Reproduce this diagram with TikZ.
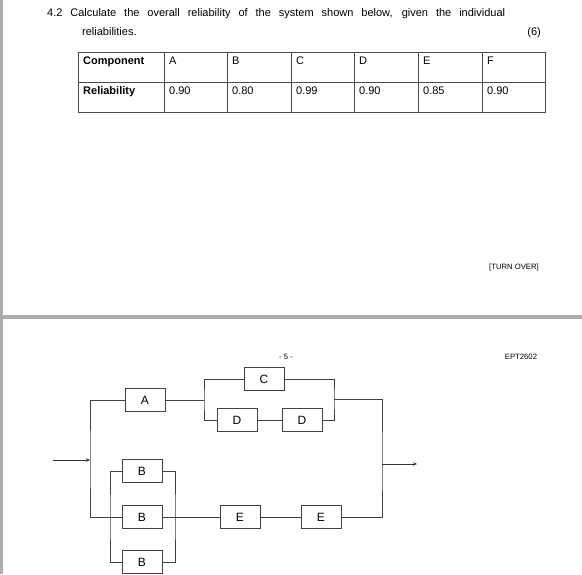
\documentclass[tikz,border=0pt]{standalone}
\usepackage{fontspec}
\setmainfont{Liberation Sans}
\usetikzlibrary{arrows.meta,positioning}

\begin{document}
\begin{tikzpicture}[x=1pt, y=-1pt,
  blk/.style={draw=black!75, minimum width=40pt, minimum height=23pt, inner sep=0pt, font=\fontsize{12}{14}\selectfont},
  wire/.style={draw=black!75, line width=0.8pt},
  arr/.style={-{Stealth[length=4pt,width=3.5pt]}, black!80, line width=0.6pt},
  txt/.style={font=\fontsize{11}{13}\selectfont, inner sep=0pt},
  small/.style={font=\fontsize{7.7}{9}\selectfont, inner sep=0pt},
  grid/.style={draw=black!70, line width=0.8pt}
]
  \useasboundingbox (0,0) rectangle (582,574);
  % page edges
  \fill[gray!65] (0,0) rectangle (3,574);
  \fill[gray!65] (0,315) rectangle (582,319);

  % question text
  \node[txt, anchor=base west] (q1) at (47,16) {\makebox[458pt][s]{4.2 Calculate the overall reliability of the system shown below, given the individual}};
  \node[txt, anchor=base west] (q2) at (82,35) {reliabilities.};
  \node[txt, anchor=base east] (mark) at (541,35) {(6)};

  % table
  \draw[grid] (78,52) rectangle (545,112);
  \draw[grid] (78,82) -- (545,82);
  \foreach \x in {164,227,291,354,418,482}
    \draw[grid] (\x,52) -- (\x,112);
  \node[txt, anchor=base west] (hc) at (83,64) {\textbf{Component}};
  \node[txt, anchor=base west] (hr) at (83,94) {\textbf{Reliability}};
  \foreach \x/\c/\r in {164/A/0.90, 227/B/0.80, 291/C/0.99, 354/D/0.90, 418/E/0.85, 482/F/0.90} {
    \node[txt, anchor=base west] at (\x+5,64) {\c};
    \node[txt, anchor=base west] at (\x+5,94) {\r};
  }

  \node[small] (turn) at (514,268) {[TURN OVER]};
  \node[small] (page) at (286,357) {- 5 -};
  \node[small] (code) at (521,357) {EPT2602};

  % blocks
  \node[blk] (a) at (145,400) {A};
  \node[blk] (c) at (264,379) {C};
  \node[blk] (d1) at (237,420) {D};
  \node[blk] (d2) at (302,420) {D};
  \node[blk] (b1) at (142,471) {B};
  \node[blk] (b2) at (142,517) {B};
  \node[blk] (b3) at (142,562) {B};
  \node[blk] (e1) at (240,517) {E};
  \node[blk] (e2) at (321,517) {E};

  \coordinate (in) at (53,460);
  \coordinate (split) at (90,460);
  \coordinate (p1) at (204,400);
  \coordinate (p2) at (334,399);
  \coordinate (bl) at (110,517);
  \coordinate (br) at (175,517);
  \coordinate (join) at (382,464);
  \coordinate (out) at (417,464);

  % connections
  \draw[arr] (in) -- (split);
  \draw[wire] (a.west) -| (split) |- (b2.west);
  \draw[wire] (a.east) -- (p1);
  \draw[wire] (c.west) -| (p1) |- (d1.west);
  \draw[wire] (d1.east) -- (d2.west);
  \draw[wire] (c.east) -| (p2) |- (d2.east);
  \draw[wire] (b1.west) -| (bl) |- (b3.west);
  \draw[wire] (b1.east) -| (br) |- (b3.east);
  \draw[wire] (b2.east) -- (e1.west);
  \draw[wire] (e1.east) -- (e2.west);
  \draw[wire] (p2) -| (join) |- (e2.east);
  \draw[arr] (join) -- (out);
\end{tikzpicture}
\end{document}
